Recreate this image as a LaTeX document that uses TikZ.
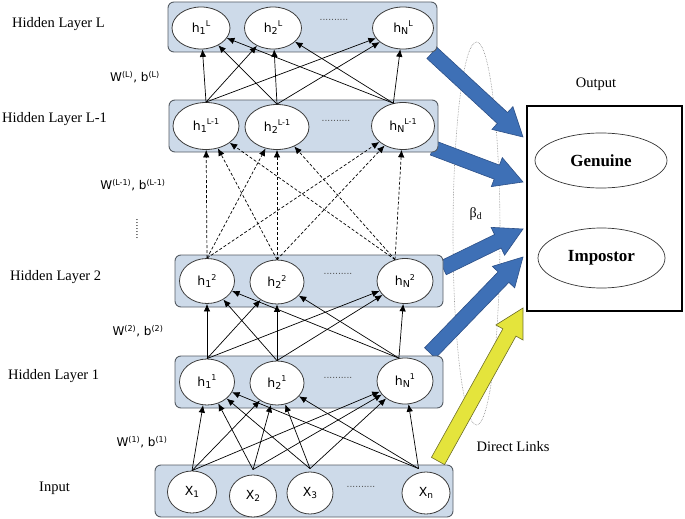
\documentclass[tikz,border=0pt]{standalone}
\usepackage{fontspec}
\setmainfont{Liberation Serif}
\newfontfamily\unitfont{DejaVu Sans}
\usetikzlibrary{shapes.geometric,calc,arrows.meta}
\definecolor{boxfill}{RGB}{205,218,233}
\definecolor{boxedge}{RGB}{85,92,100}
\definecolor{unitedge}{RGB}{60,60,60}
\definecolor{bluefill}{RGB}{62,112,182}
\definecolor{blueedge}{RGB}{45,80,135}
\definecolor{yelfill}{RGB}{228,228,60}
\definecolor{yeledge}{RGB}{110,110,40}
\newcommand\hu[2]{h\raisebox{-0.3ex}{\fontsize{9.5}{10}\selectfont #1}\raisebox{0.85ex}{\fontsize{8}{9}\selectfont #2}}
\newcommand\xu[1]{X\raisebox{-0.3ex}{\fontsize{9}{10}\selectfont #1}}
\newcommand\blockarrow[3]{%
  \coordinate (bah) at ($(#2)!28pt!(#1)$);
  \filldraw[#3] ($(#1)!7.5pt!90:(#2)$) -- ($(bah)!7.5pt!90:(#2)$) -- ($(bah)!15.5pt!90:(#2)$) -- (#2) -- ($(bah)!15.5pt!-90:(#2)$) -- ($(bah)!7.5pt!-90:(#2)$) -- ($(#1)!7.5pt!-90:(#2)$) -- cycle;}
\begin{document}
\begin{tikzpicture}[x=1pt,y=-1pt,
  layerbox/.style={draw=boxedge, fill=boxfill, rounded corners=6pt, line width=0.9pt, inner sep=0pt},
  unit/.style={ellipse, draw=unitedge, fill=white, line width=0.8pt, inner sep=0pt, font=\unitfont\fontsize{12.5}{14}\selectfont},
  conn/.style={-{Latex[length=7.5pt,width=6.5pt]}, line width=0.7pt},
  dconn/.style={conn, dash pattern=on 3pt off 2pt},
  lbl/.style={font=\fontsize{14.5}{16}\selectfont, anchor=west, inner sep=0pt},
  wlbl/.style={font=\unitfont\fontsize{12}{14}\selectfont, inner sep=0pt},
  dotsl/.style={font=\unitfont\fontsize{9}{10}\selectfont, inner sep=0pt, text=black!70, anchor=base},
  bluearrow/.style={fill=bluefill, draw=blueedge, line width=0.6pt, line join=miter},
  yelarrow/.style={fill=yelfill, draw=yeledge, line width=0.6pt, line join=miter}]
\useasboundingbox (0,0) rectangle (685,519);

% dotted ellipse
\node[ellipse, draw=black!45, densely dotted, line width=0.6pt, minimum width=47pt, minimum height=383pt, inner sep=0pt] (bell) at (476.5,233.5) {};
\node[font=\fontsize{14}{16}\selectfont, inner sep=0pt] (beta) at (476,214) {β\textsubscript{d}};

% block arrows
\coordinate (t1) at (432,53);  \coordinate (p1) at (523,137);
\coordinate (t2) at (433,148); \coordinate (p2) at (523,182);
\coordinate (t3) at (443,268); \coordinate (p3) at (523,229);
\coordinate (t4) at (430,353); \coordinate (p4) at (523,257);
\coordinate (t5) at (438,461); \coordinate (p5) at (523,308);
\blockarrow{t1}{p1}{bluearrow}
\blockarrow{t2}{p2}{bluearrow}
\blockarrow{t3}{p3}{bluearrow}
\blockarrow{t4}{p4}{bluearrow}
\blockarrow{t5}{p5}{yelarrow}

% layer boxes
\node[layerbox, minimum width=269pt, minimum height=50pt] (boxL) at (302.5,27) {};
\node[layerbox, minimum width=269pt, minimum height=52pt] (boxM) at (303.5,126) {};
\node[layerbox, minimum width=268pt, minimum height=52pt] (boxB) at (309,281) {};
\node[layerbox, minimum width=268pt, minimum height=52pt] (boxA) at (309,382) {};
\node[layerbox, minimum width=298pt, minimum height=52pt] (boxX) at (304,491) {};

% units
\node[unit, minimum width=58pt, minimum height=42pt] (L1) at (201,28) {\hu{1}{L}};
\node[unit, minimum width=57pt, minimum height=42pt] (L2) at (273,28) {\hu{2}{L}};
\node[unit, minimum width=61pt, minimum height=42pt] (LN) at (403,28) {\hu{N}{L}};

\node[unit, minimum width=66pt, minimum height=47pt] (M1) at (206,126) {\hu{1}{L-1}};
\node[unit, minimum width=64pt, minimum height=45pt] (M2) at (277,127) {\hu{2}{L-1}};
\node[unit, minimum width=63pt, minimum height=47pt] (MN) at (403,126) {\hu{N}{L-1}};

\node[unit, minimum width=55pt, minimum height=45pt] (B1) at (207,281) {\hu{1}{2}};
\node[unit, minimum width=54pt, minimum height=44pt] (B2) at (277,282) {\hu{2}{2}};
\node[unit, minimum width=56pt, minimum height=45pt] (BN) at (405,281) {\hu{N}{2}};

\node[unit, minimum width=55pt, minimum height=46pt] (A1) at (207,382) {\hu{1}{1}};
\node[unit, minimum width=54pt, minimum height=44pt] (A2) at (277,383) {\hu{2}{1}};
\node[unit, minimum width=56pt, minimum height=46pt] (AN) at (405,381) {\hu{N}{1}};

\node[unit, minimum width=49pt, minimum height=42pt] (X1) at (192,492) {\xu{1}};
\node[unit, minimum width=47pt, minimum height=42pt] (X2) at (253,496) {\xu{2}};
\node[unit, minimum width=46pt, minimum height=42pt] (X3) at (310,493) {\xu{3}};
\node[unit, minimum width=48pt, minimum height=42pt] (Xn) at (426,493) {\xu{n}};

% dots inside layers
\node[dotsl] (dL) at (334,21) {..........};
\node[dotsl] (dM) at (336,121) {..........};
\node[dotsl] (dB) at (338,274) {..........};
\node[dotsl] (dA) at (338,378) {..........};
\node[dotsl] (dX) at (361,487) {..........};

% source points of the input connections
\coordinate (sX1) at (X1.north);
\coordinate (sX2) at ([yshift=5pt]X2.north);
\coordinate (sX3) at ([yshift=3pt]X3.north);
\coordinate (sXn) at ([yshift=4pt]Xn.110);

% connections
\foreach \s in {M1.north, M2.north, MN.113}
  \foreach \t in {L1, L2, LN}
    \draw[conn] (\s) -- (\t);
\foreach \s in {B1.north, B2.north, BN.115}
  \foreach \t in {M1, M2, MN}
    \draw[dconn] (\s) -- (\t);
\foreach \s in {A1.north, A2.north, AN.105}
  \foreach \t in {B1, B2, BN}
    \draw[conn] (\s) -- (\t);
\foreach \s in {sX1, sX2, sX3, sXn}
  \foreach \t in {A1, A2, AN}
    \draw[conn] (\s) -- (\t);

% left labels
\node[lbl] (lab1) at (12,24) {Hidden Layer L};
\node[lbl] (lab2) at (2,119) {Hidden Layer L-1};
\node[lbl] (lab3) at (10,277) {Hidden Layer 2};
\node[lbl] (lab4) at (8,376) {Hidden Layer 1};
\node[lbl] (lab5) at (39,488) {Input};

% weight labels
\node[wlbl] (w1) at (135,77) {W\textsuperscript{(L)}, b\textsuperscript{(L)}};
\node[wlbl] (w2) at (133,185) {W\textsuperscript{(L-1)}, b\textsuperscript{(L-1)}};
\node[wlbl, rotate=90, font=\unitfont\fontsize{9}{10}\selectfont] (vd) at (137,229) {.......};
\node[wlbl] (w3) at (138,331) {W\textsuperscript{(2)}, b\textsuperscript{(2)}};
\node[wlbl] (w4) at (142,442) {W\textsuperscript{(1)}, b\textsuperscript{(1)}};

% output
\node[draw=black, line width=1.8pt, minimum width=155pt, minimum height=205pt, inner sep=0pt] (out) at (604.5,208.5) {};
\node[font=\fontsize{14.5}{16}\selectfont, inner sep=0pt] (outl) at (596,84) {Output};
\node[ellipse, draw=black!80, line width=0.7pt, minimum width=132pt, minimum height=55pt, inner sep=0pt, font=\bfseries\fontsize{17}{19}\selectfont] (gen) at (601,160.5) {Genuine};
\node[ellipse, draw=black!80, line width=0.7pt, minimum width=127pt, minimum height=60pt, inner sep=0pt, font=\bfseries\fontsize{17}{19}\selectfont] (imp) at (601.5,258) {Impostor};
\node[font=\fontsize{14.5}{16}\selectfont, inner sep=0pt] (dl) at (513,447) {Direct Links};
\end{tikzpicture}
\end{document}
